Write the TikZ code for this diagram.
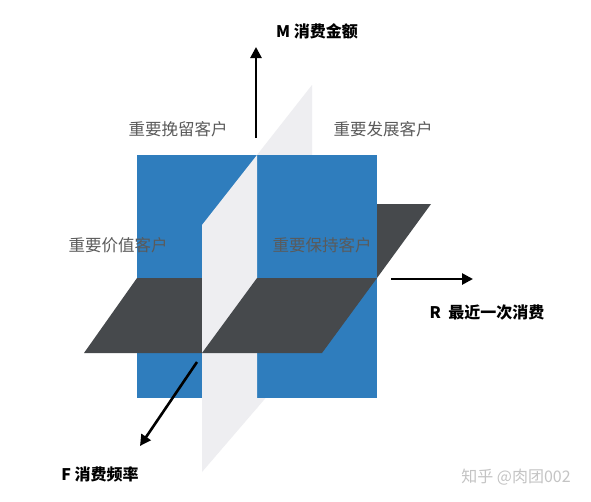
\documentclass[tikz,border=0pt]{standalone}
\usepackage{fontspec}
\newfontfamily\cjk{Noto Sans CJK SC}
\usetikzlibrary{arrows.meta}
\definecolor{planeblue}{HTML}{2F7DBD}
\definecolor{planedark}{HTML}{46494C}
\definecolor{planegray}{HTML}{EEEEF1}
\definecolor{labgray}{HTML}{5A5A5A}
\definecolor{wmgray}{HTML}{C4C4C4}
\tikzset{
  quad/.style={font=\cjk\fontsize{16.5}{18}\selectfont, text=labgray, inner sep=0pt},
  axislab/.style={font=\cjk\bfseries\fontsize{16}{18}\selectfont, text=black, inner sep=0pt},
  axisarrow/.style={line width=2.6pt, -{Triangle[width=11pt,length=11pt]}},
  wm/.style={font=\cjk\fontsize{16}{18}\selectfont, text=wmgray, inner sep=0pt}
}
\begin{document}
\begin{tikzpicture}[x=1pt,y=-1pt]
\useasboundingbox (0,0) rectangle (591,501);
\fill[white] (0,0) rectangle (591,501);
% back halves
\fill[planegray] (257,155) -- (312,85) -- (312,344) -- (257,408) -- cycle;
\fill[planedark] (137,278) -- (377,278) -- (431,204) -- (191,204) -- cycle;
% blue vertical plane
\fill[planeblue] (137,155) rectangle (377,398);
% front halves
\fill[planedark] (84,353) -- (202,353) -- (257,278) -- (137,278) -- cycle;
\fill[planegray] (202,225) -- (257,155) -- (257,408) -- (202,472) -- cycle;
\fill[planedark] (202,353) -- (322,353) -- (377,278) -- (257,278) -- cycle;
% axes
\coordinate (mfrom) at (256,138);
\coordinate (mto) at (256,47);
\coordinate (rfrom) at (391,279);
\coordinate (rto) at (473,279);
\coordinate (ffrom) at (197,362);
\coordinate (fto) at (140,446);
\draw[axisarrow] (mfrom) -- (mto);
\draw[axisarrow] (rfrom) -- (rto);
\draw[axisarrow] (ffrom) -- (fto);
% axis labels
\node[axislab] (mlab) at (317,31) {M 消费金额};
\node[axislab] (rlab) at (487,312) {R\ \ 最近一次消费};
\node[axislab] (flab) at (100,474) {F 消费频率};
% quadrant labels
\node[quad] (retain) at (178,129) {重要挽留客户};
\node[quad] (develop) at (383,129) {重要发展客户};
\node[quad] (value) at (118,245) {重要价值客户};
\node[quad] (keep) at (322,245) {重要保持客户};
% watermark
\node[wm] (mark) at (516,477) {知乎 @肉团002};
\end{tikzpicture}
\end{document}
